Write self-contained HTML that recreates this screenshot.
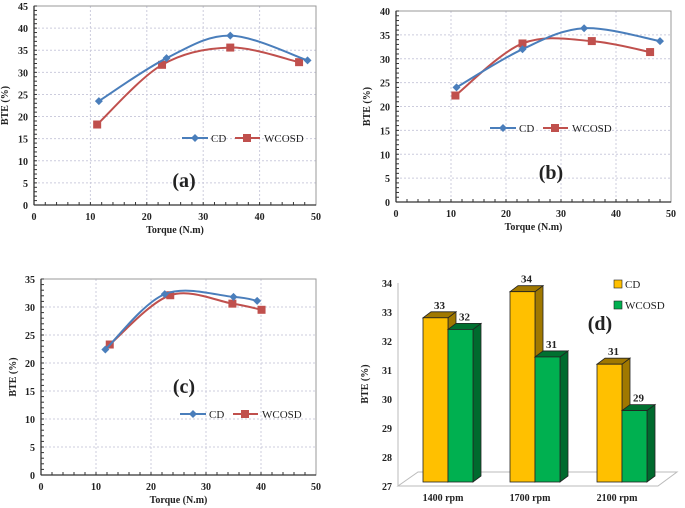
<!DOCTYPE html>
<html><head><meta charset="utf-8"><style>
body{margin:0;background:#fff}
svg{display:block}
text{font-family:"Liberation Serif",serif;font-weight:bold;fill:#222}
text.nb{font-weight:normal}
</style></head><body>
<svg id="s" width="685" height="508" xmlns="http://www.w3.org/2000/svg"></svg>
<script>
const NS="http://www.w3.org/2000/svg";
const svg=document.getElementById('s');
// ---- data ----
const aCDx=[11.5,23.5,34.8,48.5], aCDy=[23.5,33.2,38.3,32.7];
const aWx=[11.2,22.7,34.8,47], aWy=[18.2,31.7,35.6,32.3];
const bCDx=[11,23,34.2,48], bCDy=[24,32,36.4,33.7];
const bWx=[10.8,23,35.6,46.2], bWy=[22.3,33.2,33.7,31.4];
const cCDx=[11.7,22.5,35,39.3], cCDy=[22.4,32.3,31.8,31.1];
const cWx=[12.5,23.5,34.8,40.1], cWy=[23.3,32.1,30.6,29.5];
const xTicks=[0,10,20,30,40,50];
const dCats=["1400 rpm","1700 rpm","2100 rpm"];
const dCD=[32.8,33.7,31.2], dW=[32.4,31.45,29.6];
const dCDlbl=["33","34","31"], dWlbl=["32","31","29"];
const dTicks=[27,28,29,30,31,32,33,34];

function el(t,a,p){const e=document.createElementNS(NS,t);for(const k in a)e.setAttribute(k,a[k]);(p||svg).appendChild(e);return e;}
function txt(s,a,p){const e=el('text',a,p);e.textContent=s;return e;}
function smooth(pts){let d=`M${pts[0][0]},${pts[0][1]}`;for(let i=0;i<pts.length-1;i++){const p0=pts[i-1]||pts[i],p1=pts[i],p2=pts[i+1],p3=pts[i+2]||p2;const t=6;d+=` C${p1[0]+(p2[0]-p0[0])/t},${p1[1]+(p2[1]-p0[1])/t} ${p2[0]-(p3[0]-p1[0])/t},${p2[1]-(p3[1]-p1[1])/t} ${p2[0]},${p2[1]}`;}return d;}

function lineChart(o){
  const g=el('g',{});
  
  
  const X=v=>o.x0+(o.x1-o.x0)*v/50, Y=v=>o.y0-(o.y0-o.y1)*v/o.ymax;
  for(let v=0;v<=o.ymax;v+=5){if(v>0)el('line',{x1:o.x0,x2:o.x1,y1:Y(v),y2:Y(v),stroke:'#ccd',"stroke-dasharray":'2,2'},g);
    const t=txt(v,{x:o.x0-6,y:Y(v)+4,"text-anchor":'end',"font-size":10},g);
    }
  xTicks.forEach(v=>{if(v>0)el('line',{x1:X(v),x2:X(v),y1:o.y1,y2:o.y0,stroke:'#ccd',"stroke-dasharray":'2,2'},g);
    const t=txt(v,{x:X(v),y:o.y0+15,"text-anchor":'middle',"font-size":10},g);
    });
  el('rect',{x:o.x0,y:o.y1,width:o.x1-o.x0,height:o.y0-o.y1,fill:'none',stroke:'#999'},g);
  el('line',{x1:o.x0,x2:o.x1,y1:o.y0,y2:o.y0,stroke:'#333',"stroke-width":1.3},g);
  el('line',{x1:o.x0,x2:o.x0,y1:o.y1,y2:o.y0,stroke:'#333',"stroke-width":1.3},g);
  for(let v=1;v<=o.ymax;v+=1)el('line',{x1:o.x0,x2:o.x0+3,y1:Y(v),y2:Y(v),stroke:'#333'},g);
  for(let v=2;v<50;v+=2)el('line',{x1:X(v),x2:X(v),y1:o.y0,y2:o.y0-3,stroke:'#333'},g);
  [[o.w,'#c0504d','sq','wcosd'],[o.cd,'#4a7ebb','di','cd']].forEach(([s,c,m,n])=>{
    const pts=s[0].map((x,i)=>[X(x),Y(s[1][i])]);
    const p=el('path',{d:smooth(pts),fill:'none',stroke:c,"stroke-width":2},g);
    
    pts.forEach(q=>{const mk=m=='sq'?el('rect',{x:q[0]-4,y:q[1]-4,width:8,height:8,fill:c},g):el('path',{d:`M${q[0]},${q[1]-4}L${q[0]+4},${q[1]}L${q[0]},${q[1]+4}L${q[0]-4},${q[1]}Z`,fill:c},g);
      });
  });
  const L=o.leg;
  el('line',{x1:L[0],x2:L[0]+26,y1:L[1],y2:L[1],stroke:'#4a7ebb',"stroke-width":2},g);
  el('path',{d:`M${L[0]+13},${L[1]-4}l4,4l-4,4l-4,-4z`,fill:'#4a7ebb'},g);
  const l1=txt('CD',{x:L[0]+29,y:L[1]+4,"font-size":11,class:'nb'},g);
  
  el('line',{x1:L[0]+53,x2:L[0]+78,y1:L[1],y2:L[1],stroke:'#c0504d',"stroke-width":2},g);
  el('rect',{x:L[0]+61,y:L[1]-4,width:8,height:8,fill:'#c0504d'},g);
  const l2=txt('WCOSD',{x:L[0]+82,y:L[1]+4,"font-size":11,class:'nb'},g);
  
  const lb=txt(o.label,{x:o.lab[0],y:o.lab[1],"text-anchor":'middle',"font-size":20},g);
  const xt=txt('Torque (N.m)',{x:(o.x0+o.x1)/2,y:o.y0+28,"text-anchor":'middle',"font-size":10},g);
  const yt=txt('BTE (%)',{x:0,y:0,"text-anchor":'middle',"font-size":10,transform:`translate(${o.ytx},${(o.y0+o.y1)/2}) rotate(-90)`},g);
}
lineChart({name:'chart-a',x0:34,x1:316,y0:205,y1:6,ymax:45,cd:[aCDx,aCDy],w:[aWx,aWy],leg:[182,138],label:'(a)',lab:[184,187],ytx:8});
lineChart({name:'chart-b',x0:396,x1:671,y0:202,y1:11,ymax:40,cd:[bCDx,bCDy],w:[bWx,bWy],leg:[490,128],label:'(b)',lab:[551,179],ytx:370});
lineChart({name:'chart-c',x0:41,x1:316,y0:475,y1:279,ymax:35,cd:[cCDx,cCDy],w:[cWx,cWy],leg:[180,414],label:'(c)',lab:[184,393],ytx:16});

// ---- bar chart d ----
const gd=el('g',{});


const DY=v=>486-(v-27)*29;
el('polygon',{points:'398,486 658,486 677,472 418,472',fill:'none',stroke:'#bbb'},gd);
el('line',{x1:398,x2:398,y1:283,y2:486,stroke:'#bbb'},gd);
dTicks.forEach(v=>{const t=txt(v,{x:392,y:DY(v)+4,"text-anchor":'end',"font-size":10},gd);});
const dyt=txt('BTE (%)',{x:0,y:0,"text-anchor":'middle',"font-size":10,transform:'translate(368,384) rotate(-90)'},gd);

const gx=[423,510,597];
function bar3d(x,v,front,top,side,lbl,n){
  const y=DY(v),w=25,dx=8,dy=6,b=482;
  const g=el('g',{},gd);
  
  
  el('polygon',{points:`${x+w},${y} ${x+w+dx},${y-dy} ${x+w+dx},${b-dy} ${x+w},${b}`,fill:side,stroke:'#222',"stroke-width":0.8},g);
  el('polygon',{points:`${x},${y} ${x+dx},${y-dy} ${x+w+dx},${y-dy} ${x+w},${y}`,fill:top,stroke:'#222',"stroke-width":0.8},g);
  el('rect',{x:x,y:y,width:w,height:b-y,fill:front,stroke:'#222',"stroke-width":0.8},g);
  txt(lbl,{x:x+w/2+4,y:y-9,"text-anchor":'middle',"font-size":11},g);
}
dCats.forEach((c,i)=>{
  bar3d(gx[i],dCD[i],'#ffc000','#a07800','#a07800',dCDlbl[i],'bar-cd-'+i);
  bar3d(gx[i]+25,dW[i],'#00b050','#007030','#006a2e',dWlbl[i],'bar-wcosd-'+i);
  const t=txt(c,{x:gx[i]+20,y:501,"text-anchor":'middle',"font-size":10},gd);
  
});
el('rect',{x:614,y:280,width:8,height:8,fill:'#ffc000',stroke:'#222',"stroke-width":0.6},gd);
const dl1=txt('CD',{x:625,y:288,"font-size":11,class:'nb'},gd);

el('rect',{x:614,y:301,width:8,height:8,fill:'#00b050',stroke:'#222',"stroke-width":0.6},gd);
const dl2=txt('WCOSD',{x:625,y:309,"font-size":11,class:'nb'},gd);

const dl=txt('(d)',{x:600,y:330,"text-anchor":'middle',"font-size":20},gd);

</script>
</body></html>
